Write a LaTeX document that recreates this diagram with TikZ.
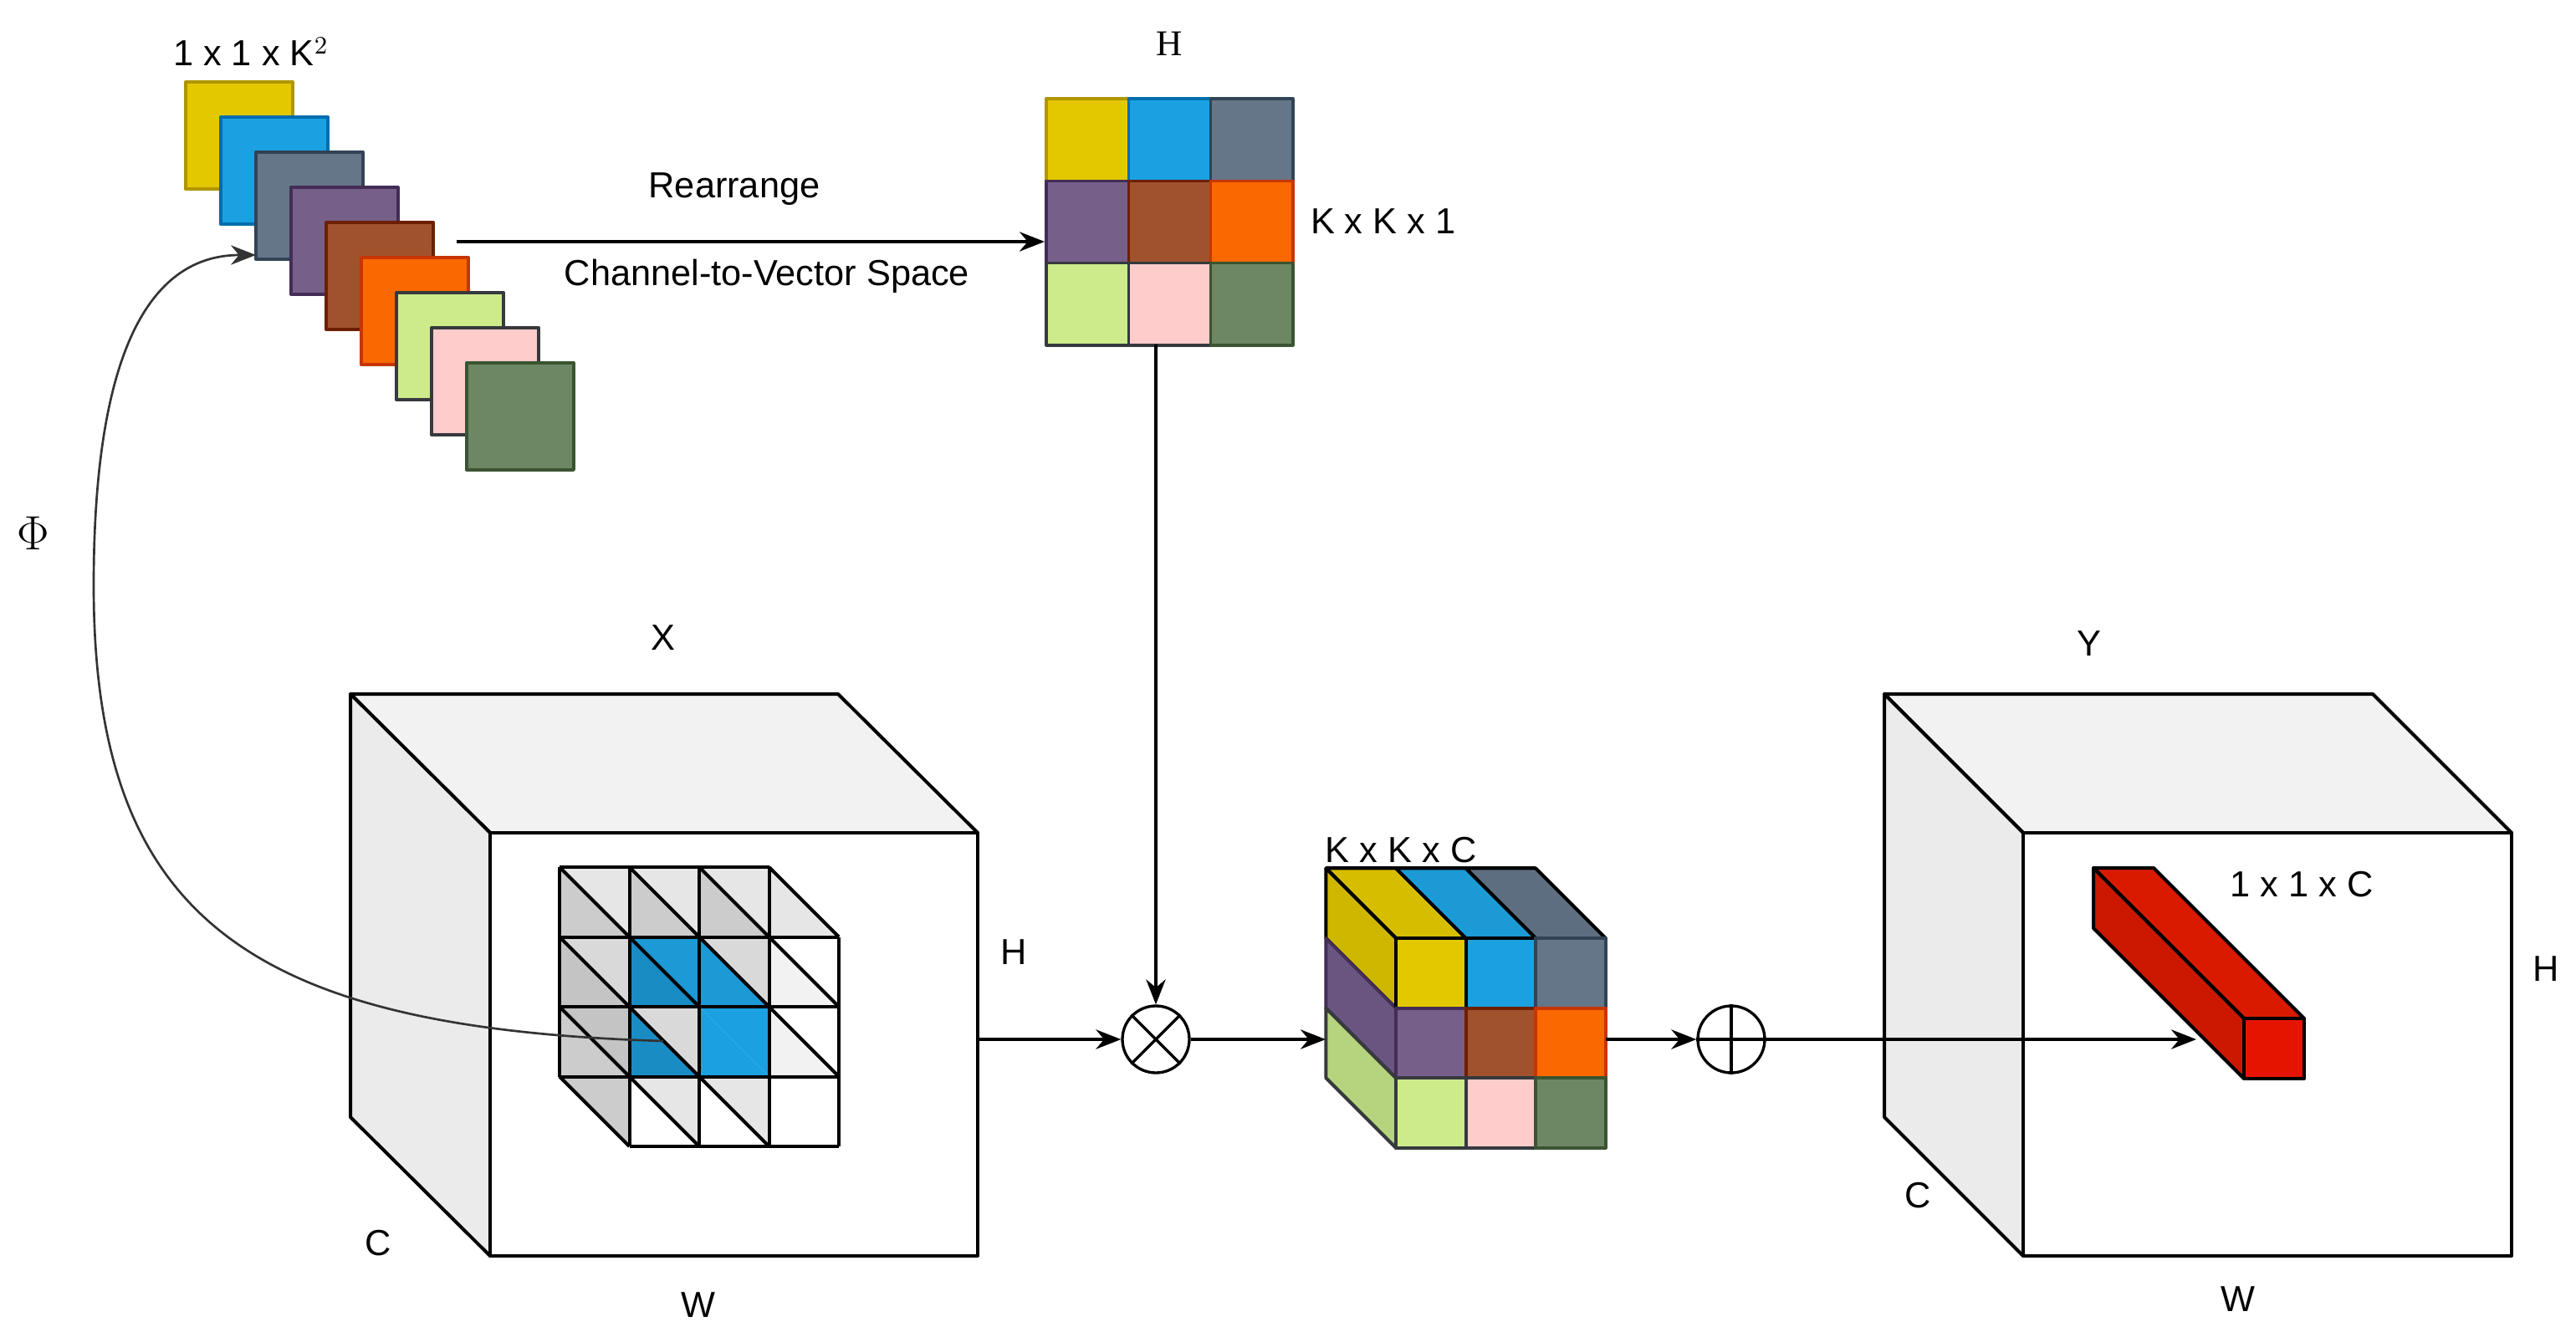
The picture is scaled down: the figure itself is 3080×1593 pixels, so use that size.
\documentclass[tikz,border=0pt]{standalone}
\usepackage{fontspec}
\setmainfont{Liberation Sans}
\newfontfamily\serif{Liberation Serif}
\usetikzlibrary{arrows.meta}
\definecolor{cY}{HTML}{E3C800}\definecolor{sY}{HTML}{B09500}
\definecolor{cB}{HTML}{1BA1E2}\definecolor{sB}{HTML}{006EAF}
\definecolor{cS}{HTML}{647687}\definecolor{sS}{HTML}{314354}
\definecolor{cP}{HTML}{76608A}\definecolor{sP}{HTML}{432D57}
\definecolor{cR}{HTML}{A0522D}\definecolor{sR}{HTML}{6D1F00}
\definecolor{cO}{HTML}{FA6800}\definecolor{sO}{HTML}{C73500}
\definecolor{cL}{HTML}{CDEB8B}\definecolor{sL}{HTML}{36393D}
\definecolor{cK}{HTML}{FFCCCC}\definecolor{sK}{HTML}{36393D}
\definecolor{cG}{HTML}{6D8764}\definecolor{sG}{HTML}{3A5431}
\definecolor{gA}{HTML}{E6E6E6}\definecolor{gB}{HTML}{CCCCCC}
\definecolor{gC}{HTML}{D9D9D9}\definecolor{gD}{HTML}{C4C4C4}
\definecolor{gE}{HTML}{F2F2F2}
\definecolor{bB}{HTML}{1B9AD5}\definecolor{bC}{HTML}{1A8CC4}
\definecolor{tY}{HTML}{D7BD00}\definecolor{tS}{HTML}{5D6E80}
\definecolor{lY}{HTML}{CFB700}\definecolor{lP}{HTML}{6A5480}\definecolor{lL}{HTML}{B5D47D}
\definecolor{rT}{HTML}{D91A00}\definecolor{rL}{HTML}{CC1800}\definecolor{rF}{HTML}{E51400}
\definecolor{cv}{HTML}{333333}
\begin{document}
\begin{tikzpicture}[x=0.3pt,y=0.3pt,yscale=-1,
  line width=1.2pt, line join=round,
  lbl/.style={font=\fontsize{13}{15}\selectfont, inner sep=0pt},
  arr/.style={-{Stealth[length=9pt,width=7pt]}, line width=1pt},
  op/.style={circle, draw, line width=1pt, minimum size=24pt, inner sep=0pt}]
\useasboundingbox (0,0) rectangle (3080,1593);

% stack of 1x1 kernels
\foreach \c/\s [count=\i from 0] in {cY/sY,cB/sB,cS/sS,cP/sP,cR/sR,cO/sO,cL/sL,cK/sK,cG/sG}
  \draw[fill=\c, draw=\s, line width=1pt] (222+42*\i,98+42*\i) rectangle ++(128,128);
\node[lbl] at (300,62) {1 x 1 x K$^2$};

% rearranged K x K grid
\foreach \c/\s [count=\k from 0] in {cY/sY,cB/sB,cS/sS,cP/sP,cR/sR,cO/sO,cL/sL,cK/sK,cG/sG}{
  \pgfmathtruncatemacro\cc{mod(\k,3)}\pgfmathtruncatemacro\rr{div(\k,3)}
  \draw[fill=\c, draw=\s, line width=1pt] (1251+98.3*\cc,118+98.3*\rr) rectangle ++(98.3,98.3);}
\node[lbl, font=\serif\fontsize{13}{15}\selectfont] at (1398,52) {H};
\node[lbl, anchor=west] at (1565,265) {K x K x 1};
\coordinate (stk) at (546,289);
\coordinate (grdL) at (1249,289);
\draw[arr] (stk) -- (grdL);
\node[lbl] at (878,226) {Rearrange};
\node[lbl] at (917,330) {Channel-to-Vector Space};

% input cube X
\draw[fill=gE] (419,830) -- (1002,830) -- (1169,996) -- (586,996) -- cycle;
\draw[fill=gA!80!white] (419,830) -- (586,996) -- (586,1502) -- (419,1336) -- cycle;
\draw[fill=white] (586,996) rectangle (1169,1502);
\node[lbl] at (793,763) {X};
\node[lbl] at (1212,1139) {H};
\node[lbl] at (452,1487) {C};
\node[lbl] at (835,1561) {W};

% inner K x K block
\begin{scope}[shift={(669,1037)}, x=0.3*83.5pt, y=0.3*83.5pt]
\foreach \i/\j/\u/\l in {0/0/gA/gB,1/0/gA/gB,2/0/gA/gB,3/0/white/gA,
  0/1/gC/gD,1/1/bB/bC,2/1/gC/bB,3/1/white/gE,
  0/2/gD/gB,1/2/gC/bC,2/2/cB/cB,3/2/white/gE,
  0/3/gB/white,1/3/gA/white,2/3/gA/white,3/3/white/white}{
  \fill[\u] (\i,\j) -- (\i+1,\j) -- (\i+1,\j+1) -- cycle;
  \fill[\l] (\i,\j) -- (\i,\j+1) -- (\i+1,\j+1) -- cycle;}
\foreach \i/\j in {0/0,1/0,2/0,3/0,0/1,1/1,2/1,3/1,0/2,1/2,3/2,0/3,1/3,2/3}
  \draw (\i,\j) -- (\i+1,\j+1);
\draw (0,0) -- (3,0) (0,1) -- (4,1) (0,2) -- (4,2) (0,3) -- (4,3) (1,4) -- (4,4);
\draw (0,0) -- (0,3) (1,0) -- (1,4) (2,0) -- (2,4) (3,0) -- (3,4) (4,1) -- (4,4);
\end{scope}

% operators
\node[op] (mul) at (1382,1243) {};
\draw[line width=1pt] (mul.north west) -- (mul.south east) (mul.north east) -- (mul.south west);
\node[op] (add) at (2070,1243) {};
\draw[line width=1pt] (add.north) -- (add.south) (add.west) -- (add.east);
\coordinate (grdB) at (1382,412);
\coordinate (xR) at (1169,1243);
\draw[arr] (grdB) -- (mul);
\draw[arr] (xR) -- (mul);

% K x K x C block
\begin{scope}[shift={(1669,1122)}, x=0.3*83.6pt, y=0.3*83.6pt]
\foreach \c [count=\k from 0] in {tY,bB,tS}
  \draw[fill=\c, draw=black] (\k-1,-1) -- (\k,-1) -- (\k+1,0) -- (\k,0) -- cycle;
\foreach \c/\s [count=\k from 0] in {lY/black,lP/sP,lL/sL}
  \draw[fill=\c, draw=\s] (-1,\k-1) -- (0,\k) -- (0,\k+1) -- (-1,\k) -- cycle;
\foreach \c/\s [count=\k from 0] in {cY/black,cB/black,cS/sS,cP/sP,cR/sR,cO/sO,cL/sL,cK/sK,cG/sG}{
  \pgfmathtruncatemacro\cc{mod(\k,3)}\pgfmathtruncatemacro\rr{div(\k,3)}
  \draw[fill=\c, draw=\s] (\cc,\rr) rectangle ++(1,1);}
\draw (-1,-1) -- (2,-1);
\end{scope}
\node[lbl] at (1675,1017) {K x K x C};
\coordinate (kL) at (1585,1243);
\coordinate (kR) at (1920,1243);
\draw[arr] (mul) -- (kL);
\draw[arr] (kR) -- (add);

% output cube Y
\draw[fill=gE] (2253,830) -- (2837,830) -- (3003,996) -- (2419,996) -- cycle;
\draw[fill=gA!80!white] (2253,830) -- (2419,996) -- (2419,1502) -- (2253,1336) -- cycle;
\draw[fill=white] (2419,996) rectangle (3003,1502);
\node[lbl] at (2498,770) {Y};
\node[lbl] at (3044,1159) {H};
\node[lbl] at (2293,1430) {C};
\node[lbl] at (2676,1554) {W};

% red 1 x 1 x C column
\draw[fill=rT] (2503,1038) -- (2575,1038) -- (2755,1218) -- (2683,1218) -- cycle;
\draw[fill=rL] (2503,1038) -- (2683,1218) -- (2683,1290) -- (2503,1110) -- cycle;
\draw[fill=rF] (2683,1218) rectangle (2755,1290);
\node[lbl] at (2752,1058) {1 x 1 x C};
\coordinate (bar) at (2626,1243);
\draw[arr] (add) -- (bar);

% phi: filter generation
\coordinate (win) at (793,1245);
\coordinate (stkL) at (306,305);
\draw[arr, line width=0.8pt, draw=cv] (win) .. controls (300,1230) and (112,1100) .. (112,700)
  .. controls (112,380) and (200,305) .. (stkL);
\node[lbl, font=\serif\fontsize{16}{18}\selectfont] at (40,638) {$\Phi$};
\end{tikzpicture}
\end{document}
